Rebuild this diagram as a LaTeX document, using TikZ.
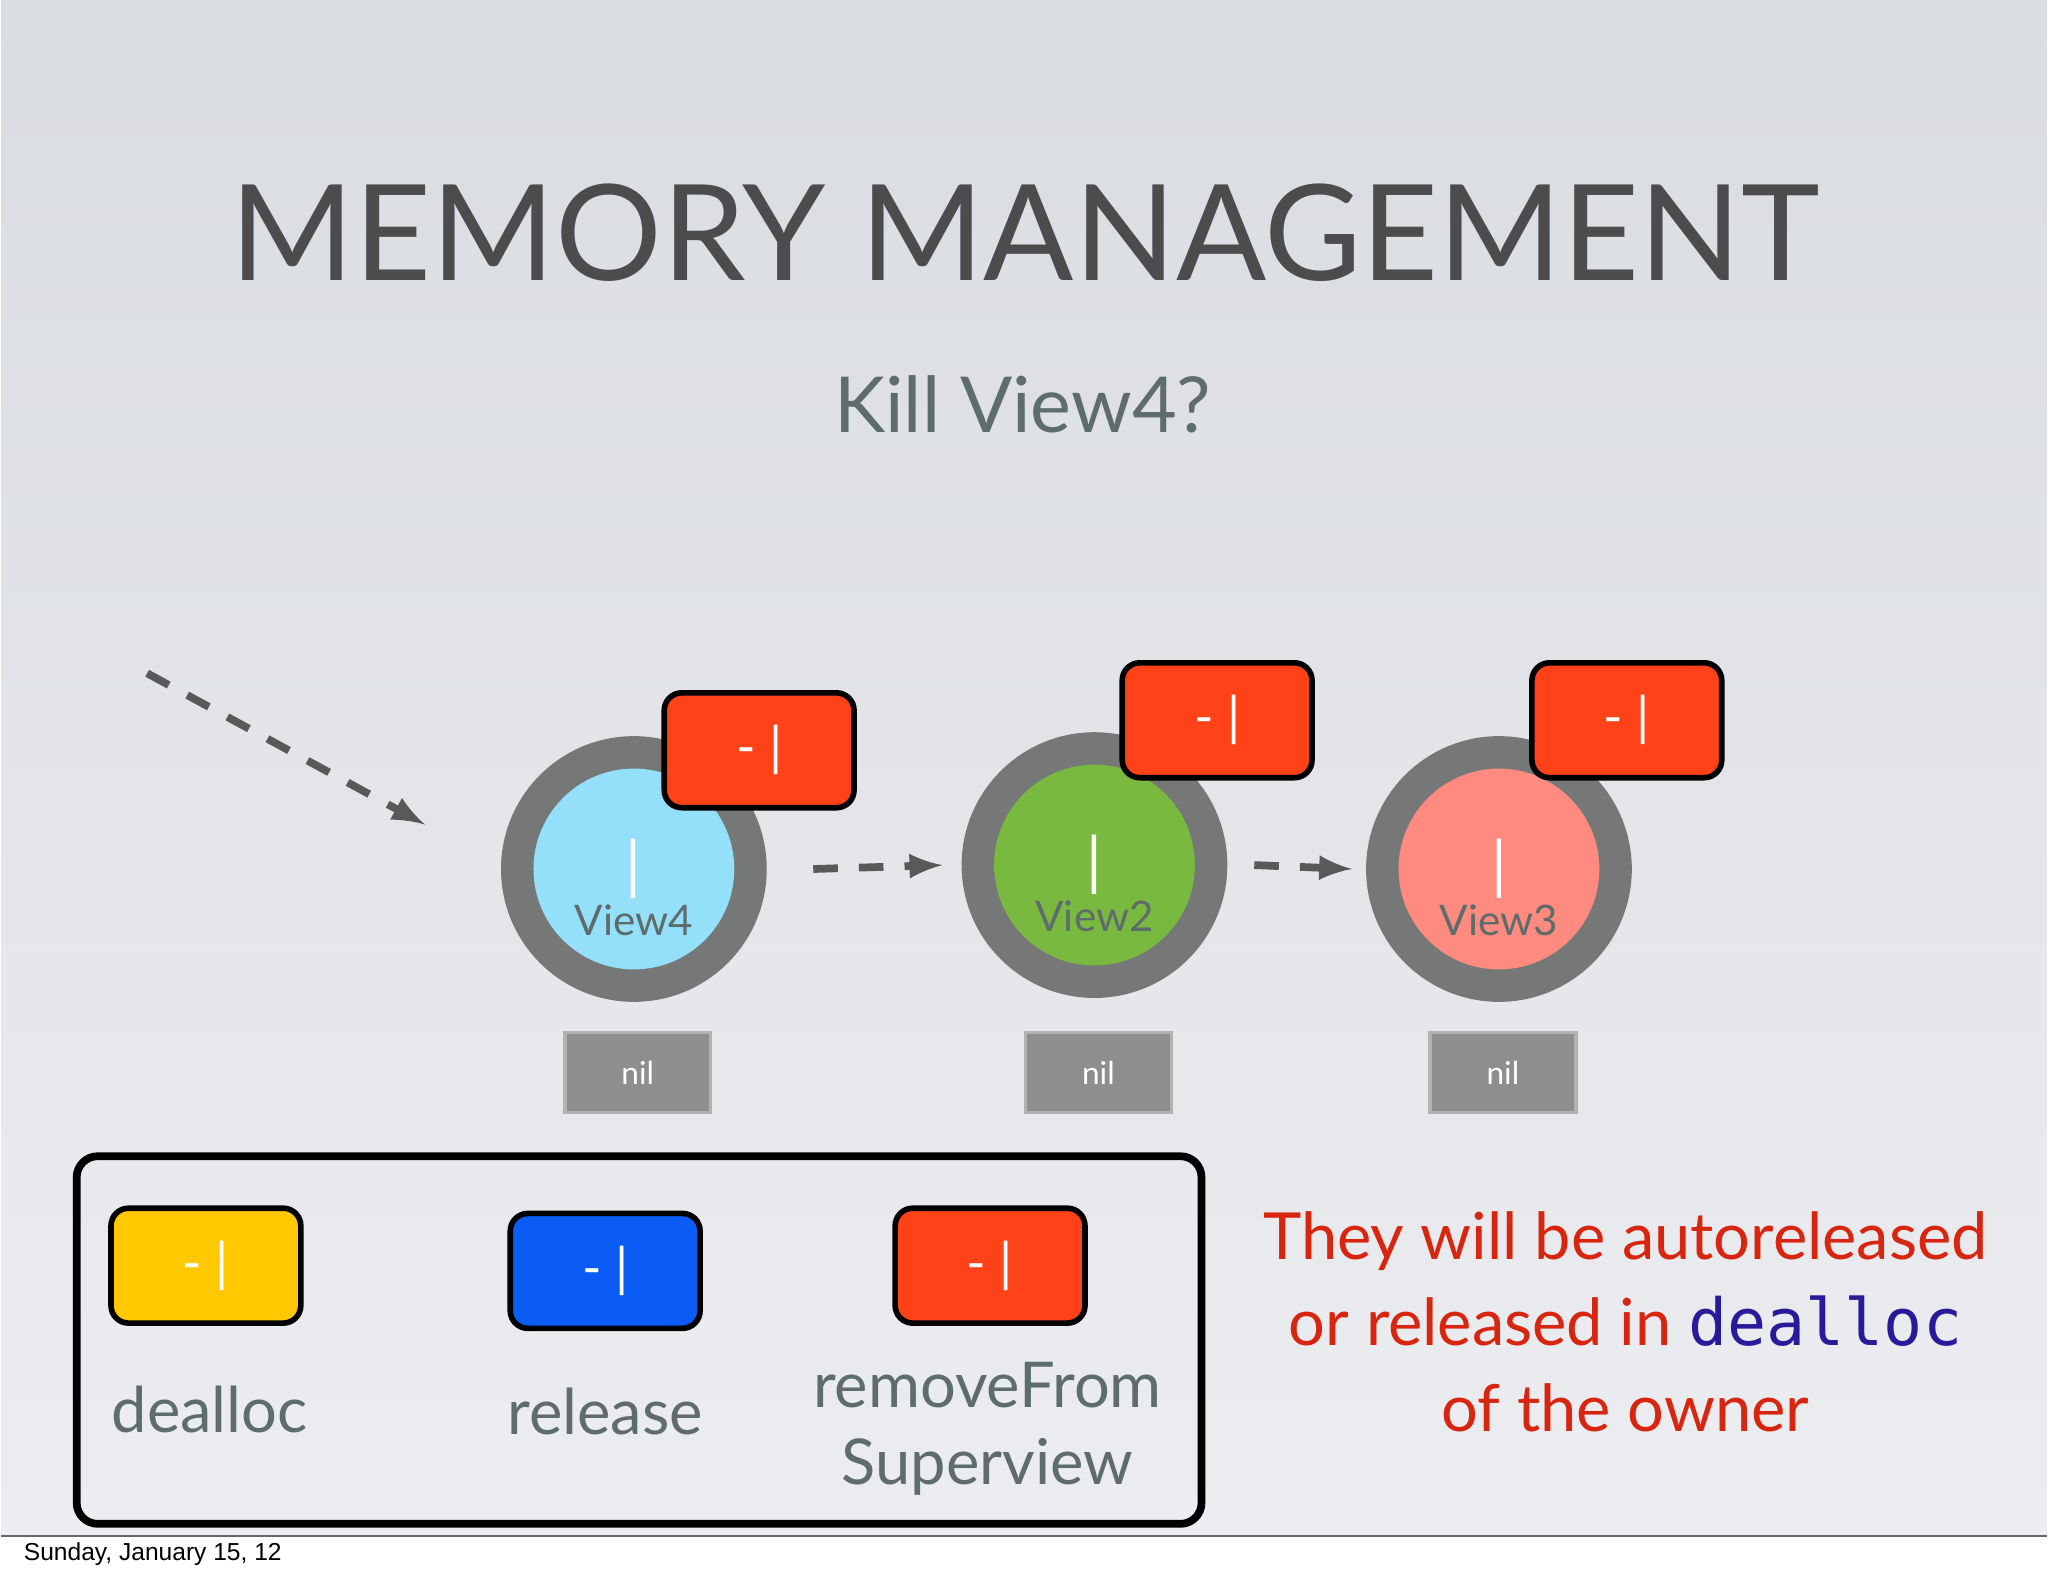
\documentclass[tikz,border=0pt]{standalone}
\usepackage{fontspec}
\setmainfont{Lato}
\newfontfamily\monofont{DejaVu Sans Mono}
\newfontfamily\stampfont{Liberation Sans}
\usetikzlibrary{positioning,calc}
\definecolor{slidetop}{HTML}{D9DCE1}
\definecolor{slidebot}{HTML}{ECEDF0}
\definecolor{ringgray}{HTML}{767878}
\definecolor{boxred}{HTML}{FF4218}
\definecolor{viewblue}{HTML}{94E0FA}
\definecolor{viewgreen}{HTML}{7AB940}
\definecolor{viewpink}{HTML}{FF8A80}
\definecolor{nilgray}{HTML}{8E8E8E}
\definecolor{textgray}{HTML}{5E6C6C}
\definecolor{notered}{HTML}{D8250F}
\definecolor{codeblue}{HTML}{2A1A9A}
\definecolor{legyellow}{HTML}{FFC800}
\definecolor{legblue}{HTML}{0A5CF5}

\begin{document}
\begin{tikzpicture}[
        x=0.013061cm, y=-0.013061cm,
        view/.style={circle,minimum size=2.01cm,inner sep=0pt,font=\fontsize{12}{12}\selectfont,text=textgray,align=center},
        % the small retain count boxes
        countbox/.style={draw=black,line width=1.6pt,rounded corners=5pt,minimum width=1.9cm,minimum height=1.15cm,text=white,font=\fontsize{15}{15}\selectfont},
        nilbox/.style={draw=gray!60,fill=nilgray,line width=1pt,minimum width=1.46cm,minimum height=0.8cm,text=white,font=\fontsize{9}{9}\selectfont},
        legend_label/.style={text=textgray,font=\fontsize{18}{22}\selectfont,align=center},
        dasharrow/.style={-latex,line width=2.2pt,dash pattern=on 7pt off 6pt,draw=black!65}
    ]

    % background
    \fill[top color=slidetop,bottom color=slidebot] (0,0) rectangle (1568,1177);
    \fill[white] (0,1177) rectangle (1568,1207);
    \draw[black!60,line width=0.6pt] (0,1177) -- (1568,1177);
    \useasboundingbox (0,0) rectangle (1568,1207);
    \node[anchor=west,font=\stampfont\fontsize{7}{7}\selectfont] (date) at (8,1191) {Sunday, January 15, 12};

    % titles
    \node[text=black!70,font=\fontsize{38}{38}\selectfont] (title) at (785,178) {MEMORY MANAGEMENT};
    \node[text=textgray,font=\fontsize{22}{22}\selectfont] (subtitle) at (783,310) {Kill View4?};

    % the three views
    \foreach \name/\x/\y/\col/\lab in {vfour/485/666/viewblue/View4, vtwo/838/663/viewgreen/View2, vthree/1148/666/viewpink/View3}
    {
        \fill[ringgray] (\x,\y) circle (1.33cm);
        \node[view,fill=\col] (\name) at (\x,\y) {};
        \node[text=white,font=\fontsize{18}{18}\selectfont] (\name bar) at (\x,\y) {|};
        \node[view,minimum size=0pt] (\name lab) at (\x,\y+39) {\lab};
        \node[nilbox] (\name nil) at (\x+3,822) {nil};
    }

    % retain count boxes
    \node[countbox,fill=boxred] (cfour) at (581,575) {- |};
    \node[countbox,fill=boxred] (ctwo) at (932,552) {- |};
    \node[countbox,fill=boxred] (cthree) at (1246,552) {- |};

    % arrows
    \coordinate (start) at (112,516);
    \coordinate (hit) at (325,632);
    \draw[dasharrow] (start) -- (hit);
    \draw[dasharrow] ($(vfour.east)+(60,0)$) -- ($(vtwo.west)+(-39,0)$);
    \draw[dasharrow] ($(vtwo.east)+(45,0)$) -- ($(vthree.west)+(-35,0)$);

    % legend
    \node[draw=black,line width=2.2pt,rounded corners=6pt,minimum width=11.26cm,minimum height=3.68cm] (legend) at (489,1027) {};
    \node[countbox,fill=legyellow] (ldealloc) at (157,970) {- |};
    \node[countbox,fill=legblue] (lrelease) at (463,974) {- |};
    \node[countbox,fill=boxred] (lremove) at (758,970) {- |};
    \node[legend_label] (tdealloc) at (160,1080) {dealloc};
    \node[legend_label] (trelease) at (463,1082) {release};
    \node[legend_label] (tremove) at (756,1095) {removeFrom\\Superview};

    % note
    \node[text=notered,font=\fontsize{18.5}{24.5}\selectfont,align=center] (note) at (1245,1013)
        {They will be autoreleased\\or released in {\monofont\color{codeblue}dealloc}\\of the owner};

\end{tikzpicture}
\end{document}
